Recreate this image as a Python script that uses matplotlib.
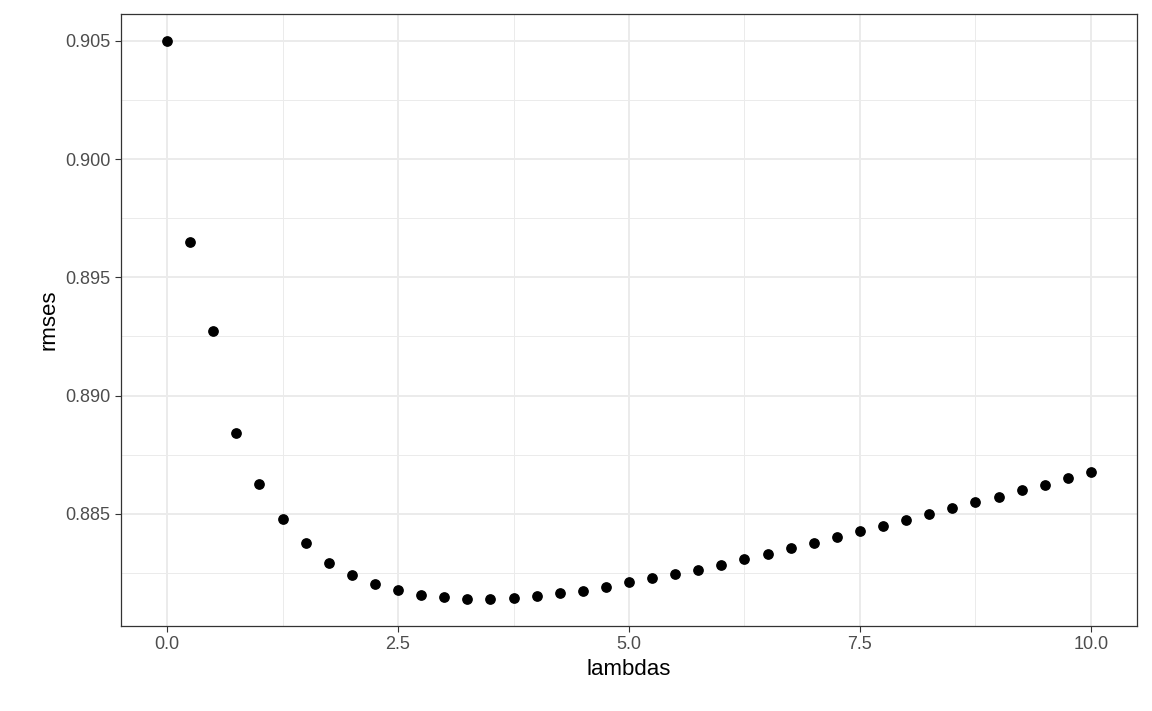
import numpy as np
import matplotlib.pyplot as plt

plt.rcParams['font.family'] = ['Liberation Sans', 'DejaVu Sans']

lambdas = np.arange(0, 10.01, 0.25)
rmses = [0.90500, 0.89648, 0.89275, 0.88843, 0.88627, 0.88479, 0.88377, 0.88292,
         0.88242, 0.88204, 0.88178, 0.88157, 0.88148, 0.88140, 0.88140, 0.88144,
         0.88153, 0.88165, 0.88174, 0.88191, 0.88212, 0.88229, 0.88246, 0.88263,
         0.88284, 0.88309, 0.88330, 0.88356, 0.88377, 0.88403, 0.88428, 0.88449,
         0.88475, 0.88500, 0.88525, 0.88551, 0.88572, 0.88602, 0.88623, 0.88653,
         0.88678]

fig = plt.figure(figsize=(11.52, 7.11), dpi=100)
ax = fig.add_axes([121 / 1152, 1 - 626 / 711, (1137 - 121) / 1152, (626 - 14) / 711])
ax.scatter(lambdas, rmses, s=45, color='black', zorder=3)

ax.set_xlim(-0.498, 10.498)
ax.set_ylim(0.88025, 0.90614)
ax.set_xticks([0, 2.5, 5, 7.5, 10])
ax.set_xticklabels(['0.0', '2.5', '5.0', '7.5', '10.0'])
ax.set_yticks([0.885, 0.890, 0.895, 0.900, 0.905])
ax.set_yticklabels(['0.885', '0.890', '0.895', '0.900', '0.905'])
ax.set_xticks([1.25, 3.75, 6.25, 8.75], minor=True)
ax.set_yticks([0.8825, 0.8875, 0.8925, 0.8975, 0.9025], minor=True)
ax.grid(which='major', color='#ebebeb', linewidth=1.4)
ax.grid(which='minor', color='#ebebeb', linewidth=0.7)
ax.set_axisbelow(True)
ax.tick_params(which='minor', length=0)
ax.tick_params(which='major', length=4, color='#333333', labelsize=13, labelcolor='#4d4d4d')
for s in ax.spines.values():
    s.set_color('#333333')
    s.set_linewidth(0.9)
ax.set_xlabel('lambdas', fontsize=16)
ax.set_ylabel('rmses', fontsize=16)

fig.savefig('out.png', dpi=100)
